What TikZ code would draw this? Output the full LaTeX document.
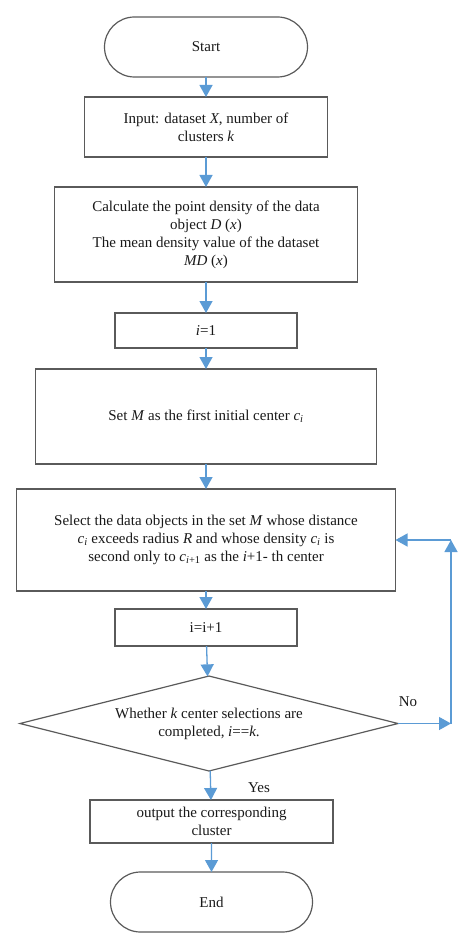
\documentclass[tikz,border=0pt]{standalone}
\usepackage{fontspec}
\setmainfont{Liberation Serif}
\usetikzlibrary{positioning,shapes.geometric,shapes.misc,arrows.meta,calc}

\definecolor{flowblue}{RGB}{91,155,213}
\definecolor{edgegray}{RGB}{90,90,90}

\begin{document}
\begin{tikzpicture}[
    x=1pt, y=-1pt,
    font=\fontsize{15}{18}\selectfont,
    box/.style={draw=edgegray, line width=1.2pt, text=black!90, align=center, inner sep=0pt, outer sep=0pt},
    term/.style={box, rounded rectangle, minimum width=203pt, minimum height=60pt},
    proc/.style={box, rectangle},
    decision/.style={box, diamond, aspect=4, minimum width=378pt, minimum height=95pt},
    flow/.style={draw=flowblue, line width=1.3pt, -{Triangle[width=13pt,length=12pt]}},
    lbl/.style={text=black!90}
  ]

% page frame, same proportions as the original figure
    \useasboundingbox (0,0) rectangle (474,949);

% --- main column ---
    \node[term] (start) at (206,47) {Start};
    \node[proc, minimum width=243pt, minimum height=60pt, below=20pt of start] (inp)
      {Input: dataset \textit{X}, number of\\clusters \textit{k}};
    \node[proc, minimum width=303pt, minimum height=95pt, below=30pt of inp] (dens)
      {Calculate the point density of the data\\object \textit{D} (\textit{x})\\The mean density value of the dataset\\\textit{MD} (\textit{x})};
    \node[proc, minimum width=182pt, minimum height=35pt, below=31pt of dens] (init)
      {\textit{i}=1};
    \node[proc, minimum width=341pt, minimum height=95pt, below=21pt of init] (setm)
      {Set \textit{M} as the first initial center \textit{c}\textsubscript{\textit{i}}};
    \node[proc, minimum width=379pt, minimum height=102pt, below=25pt of setm] (sel)
      {Select the data objects in the set \textit{M} whose distance\\
       \textit{c}\textsubscript{\textit{i}} exceeds radius \textit{R} and whose density \textit{c}\textsubscript{\textit{i}} is\\
       second only to \textit{c}\textsubscript{\textit{i}+1} as the \textit{i}+1- th center};
    \node[proc, minimum width=182pt, minimum height=37pt, below=18pt of sel] (inc)
      {i=i+1};
    \node[decision, below=30pt of inc, xshift=3pt] (chk)
      {Whether \textit{k} center selections are\\completed, \textit{i}==\textit{k}.};
    \node[proc, minimum width=243pt, minimum height=43pt, below=29pt of chk, xshift=2.5pt] (outp)
      {output the corresponding\\cluster};
    \node[term, minimum width=202pt, below=29pt of outp] (stop) {End};

% --- arrows down the column ---
    \draw[flow] (start) -- (inp);
    \draw[flow] (inp) -- (dens);
    \draw[flow] (dens) -- (init);
    \draw[flow] (init) -- (setm);
    \draw[flow] (setm) -- (sel);
    \draw[flow] (sel) -- (inc);
    \draw[flow] (inc) -- (chk);
    \draw[flow] (chk) -- (outp);
    \draw[flow] (outp) -- (stop);

% --- "No" loop back to the selection step ---
    \coordinate (noturn) at ($(chk.east)+(53,0)$);
    \coordinate (upturn) at (noturn |- sel.east);
    \draw[flow] (chk.east) -- (noturn);
    \draw[flow] (noturn) -- (upturn);
    \draw[flow] (upturn) -- (sel.east);

    \node[lbl] (no) at (408,702) {No};
    \node[lbl] (yes) at (259,788) {Yes};

\end{tikzpicture}
\end{document}
